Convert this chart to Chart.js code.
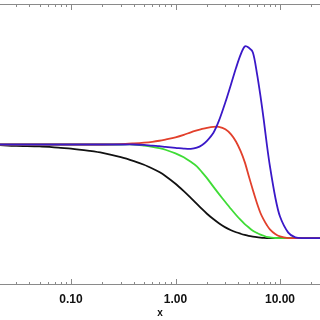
<!DOCTYPE html>
<html>
<head>
<meta charset="utf-8">
<script src="https://cdn.jsdelivr.net/npm/chart.js@4/dist/chart.umd.min.js"></script>
<style>
html,body{margin:0;padding:0;background:#fff;}
#wrap{width:320px;height:320px;overflow:hidden;}
</style>
</head>
<body>
<div id="wrap"><canvas id="c" width="320" height="320"></canvas></div>
<script>
// shared x samples (log axis)
const xValues = [0.02,0.03,0.05,0.08,0.1, 0.15,0.2,0.3,0.4,0.5, 0.6,0.7,0.8,1.0,1.2, 1.4,1.6,1.8,2.0,2.3, 2.6,3.0,3.4,3.8,4.2, 4.6,5.0,5.5,6.0,6.5, 7.0,7.5,8.0,9.0,10, 12,14,17,20,25];
const blueSeries  = [1,1,1,1,1, 1,1,1,1,0.996, 0.987,0.982,0.975,0.965,0.956, 0.953,0.966,0.995,1.039,1.123, 1.252,1.451,1.644,1.819,1.959, 2.046,2.035,1.982,1.767,1.518, 1.258,0.992,0.771,0.439,0.231, 0.059,0.009,0,0,0];
const redSeries   = [1,1,1,1,1, 1,1,1.004,1.012,1.020, 1.029,1.040,1.053,1.077,1.103, 1.130,1.150,1.166,1.178,1.189, 1.189,1.163,1.109,1.030,0.929, 0.812,0.673,0.513,0.378,0.269, 0.195,0.138,0.094,0.044,0.018, 0.001,0,0,0,0];
const greenSeries = [1,1,1,1,1, 1,1,1,1,0.988, 0.975,0.961,0.944,0.906,0.864, 0.815,0.767,0.702,0.641,0.550, 0.473,0.386,0.311,0.247,0.194, 0.150,0.116,0.080,0.057,0.038, 0.026,0.013,0.009,0.002,0, 0,0,0,0,0];
const blackSeries = [0.995,0.985,0.979,0.964,0.957, 0.932,0.910,0.864,0.822,0.784, 0.744,0.706,0.664,0.581,0.502, 0.430,0.366,0.309,0.261,0.204, 0.160,0.115,0.085,0.063,0.047, 0.034,0.024,0.016,0.010,0.006, 0.003,0.001,0,0,0, 0,0,0,0,0];
const tickValues = [0.1, 1, 10];
const decades = [0.01, 0.1, 1, 10];
const xMin = 0.02092, xMax = 24.14;
const yMin = -0.5, yMax = 2.5;

function pts(arr){ return xValues.map((x,i)=>({x:x, y:arr[i]})); }

const axisPlugin = {
  id: 'boxAxes',
  afterDatasetsDraw(chart){
    const {ctx, chartArea:a, scales:{x}} = chart;
    ctx.save();
    ctx.strokeStyle = '#8a8a8a';
    ctx.lineWidth = 1;
    ctx.beginPath();
    ctx.moveTo(a.left, a.top + 0.5); ctx.lineTo(a.right, a.top + 0.5);
    ctx.moveTo(a.left, a.bottom - 0.5); ctx.lineTo(a.right, a.bottom - 0.5);
    decades.forEach(d => {
      for (let k = 1; k <= 9; k++) {
        const px = Math.round(x.getPixelForValue(d*k)) + 0.5;
        if (px < a.left || px > a.right) continue;
        const len = k === 1 ? 6 : 3;
        ctx.moveTo(px, a.bottom); ctx.lineTo(px, a.bottom - len);
        ctx.moveTo(px, a.top); ctx.lineTo(px, a.top + len);
      }
    });
    ctx.stroke();
    ctx.restore();
  }
};

const common = {fill:false, pointRadius:0, borderWidth:1.8, tension:0.3};

new Chart(document.getElementById('c'), {
  type: 'line',
  data: {
    datasets: [
      Object.assign({label:'blue',  data: pts(blueSeries),  borderColor:'#3a18c8'}, common),
      Object.assign({label:'red',   data: pts(redSeries),   borderColor:'#e2402c'}, common),
      Object.assign({label:'green', data: pts(greenSeries), borderColor:'#3fdc36'}, common),
      Object.assign({label:'black', data: pts(blackSeries), borderColor:'#111111'}, common)
    ]
  },
  options: {
    responsive: false,
    animation: false,
    devicePixelRatio: 1,
    layout: {padding: {top: 4, left: 0, right: 0, bottom: 0}},
    plugins: {legend: {display:false}, tooltip: {enabled:false}},
    scales: {
      x: {
        type: 'logarithmic',
        min: xMin, max: xMax,
        grid: {display:false, drawTicks:false},
        border: {display:false},
        afterBuildTicks: s => { s.ticks = tickValues.map(v => ({value:v, major:true})); },
        afterFit: s => { s.height = 35; },
        ticks: {
          autoSkip:false, maxRotation:0, padding: 7,
          color:'#111',
          font:{family:'"Liberation Sans", Arial, Helvetica, sans-serif', size:12, weight:'bold'},
          callback: v => Number(v).toFixed(2)
        },
        title: {
          display:true, text:'x', color:'#111',
          font:{family:'"Liberation Sans", Arial, Helvetica, sans-serif', size:10, weight:'bold'},
          padding:{top:0, bottom:1}
        }
      },
      y: {
        display:false,
        min: yMin, max: yMax
      }
    }
  },
  plugins: [axisPlugin]
});
</script>
</body>
</html>
